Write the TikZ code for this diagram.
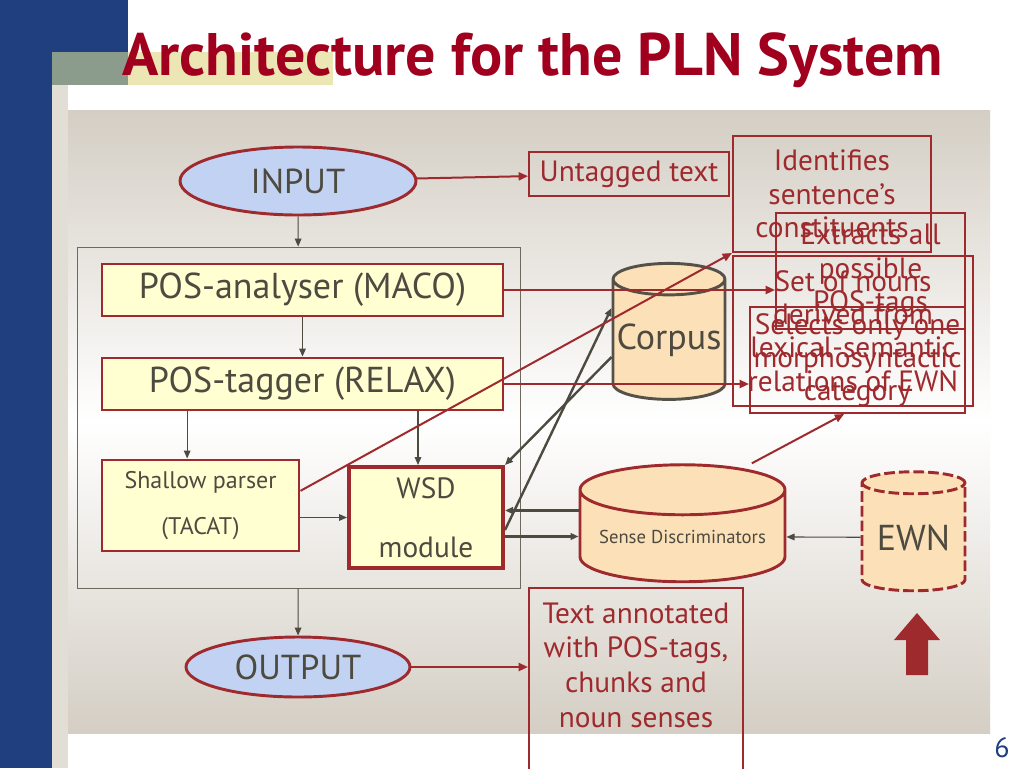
\documentclass[tikz,border=0pt]{standalone}
\usepackage{fontspec}
\setmainfont{PT Sans}
\usetikzlibrary{arrows.meta,shapes.geometric}
\definecolor{slideblue}{HTML}{1F3F7F}
\definecolor{sagegrey}{HTML}{8C9C8C}
\definecolor{paleyellow}{HTML}{ECE6B4}
\definecolor{sidegrey}{HTML}{E2DED6}
\definecolor{boxred}{HTML}{9E2A2E}
\definecolor{titlered}{HTML}{A0001E}
\definecolor{inkgrey}{HTML}{4D4A40}
\definecolor{framegrey}{HTML}{6E695F}
\definecolor{drumgrey}{HTML}{555048}
\definecolor{panelgrey}{HTML}{D4CEC4}
\definecolor{modfill}{HTML}{FFFFD2}
\definecolor{peach}{HTML}{FCE0B8}
\definecolor{skyfill}{HTML}{C2D2F2}
\tikzset{
  module/.style={draw=boxred,line width=2.2pt,fill=modfill,text=inkgrey,align=center,inner sep=0pt},
  note/.style={draw=boxred,line width=1.5pt,text=boxred,align=center,inner sep=0pt,font=\fontsize{22}{25}\selectfont},
  io/.style={ellipse,draw=boxred,line width=2.2pt,fill=skyfill,text=inkgrey,inner sep=0pt,font=\fontsize{26}{30}\selectfont},
  store/.style={cylinder,shape border rotate=90,aspect=0.3,cylinder uses custom fill,cylinder body fill=peach,cylinder end fill=peach,inner sep=0pt,text=inkgrey},
  flow/.style={draw=inkgrey,line width=0.8pt,-{Triangle[length=6pt,width=5pt]}},
  link/.style={draw=boxred,line width=1.5pt,-{Triangle[length=7pt,width=6pt]}}
}
\begin{document}
\begin{tikzpicture}[x=0.75pt,y=0.75pt,yscale=-1,xscale=1]
\useasboundingbox (0,0) rectangle (1024,768);

% slide background
\fill[white] (0,0) rectangle (1024,768);
\fill[slideblue] (0,0) rectangle (52,768);
\fill[slideblue] (52,0) rectangle (128,52);
\fill[sagegrey] (52,52) rectangle (128,85);
\fill[paleyellow] (128,52) rectangle (333,85);
\fill[sidegrey] (52,85) rectangle (68,768);
\shade[top color=panelgrey,bottom color=panelgrey,middle color=white] (68,110) rectangle (990,733);

\node[anchor=base west,text=titlered,font=\bfseries\fontsize{45}{50}\selectfont,inner sep=0pt] (title) at (122,75) {Architecture for the PLN System};
\node[anchor=base,text=slideblue,font=\fontsize{21}{24}\selectfont,inner sep=0pt] (page) at (1002,757) {6};

% pipeline
\node[draw=framegrey,line width=0.6pt,minimum width=443*0.75pt,minimum height=341*0.75pt] (panel) at (298.5,417.5) {};
\node[io,minimum width=236*0.75pt,minimum height=68*0.75pt] (input) at (298,181) {INPUT};
\node[io,minimum width=224*0.75pt,minimum height=60*0.75pt] (output) at (298,667) {OUTPUT};
\node[module,minimum width=401*0.75pt,minimum height=52*0.75pt,font=\fontsize{27}{30}\selectfont] (maco) at (302.5,290) {POS-analyser (MACO)};
\node[module,minimum width=401*0.75pt,minimum height=52*0.75pt,font=\fontsize{27}{30}\selectfont] (relax) at (302.5,384) {POS-tagger (RELAX)};
\node[module,minimum width=197*0.75pt,minimum height=91*0.75pt,font=\fontsize{18}{34}\selectfont] (tacat) at (200.5,505.5) {Shallow parser\\(TACAT)};
\node[module,line width=3pt,minimum width=154*0.75pt,minimum height=101*0.75pt,font=\fontsize{22}{44}\selectfont] (wsd) at (426,517.5) {WSD\\module};

% resources
\node[store,draw=drumgrey,line width=2.2pt,minimum width=112*0.75pt,minimum height=136*0.75pt,font=\fontsize{27}{30}\selectfont] (corpus) at (669,340) {Corpus};
\node[store,draw=boxred,line width=2.2pt,minimum width=205*0.75pt,minimum height=117*0.75pt,font=\fontsize{14}{16}\selectfont] (senses) at (682.5,536.5) {Sense Discriminators};
\node[store,draw=boxred,line width=2.2pt,dashed,dash pattern=on 8pt off 3pt,minimum width=103*0.75pt,minimum height=119*0.75pt,font=\fontsize{27}{30}\selectfont] (ewn) at (913.5,537.5) {EWN};

% notes
\node[note,minimum width=200*0.75pt,minimum height=44*0.75pt] (untagged) at (629,174) {Untagged text};
\node[note,minimum width=198*0.75pt,minimum height=116*0.75pt] (ident) at (832,194) {Identifies\\sentence's\\constituents};
\node[note,minimum width=189*0.75pt,minimum height=116*0.75pt] (extract) at (870.5,271) {Extracts all\\possible\\POS-tags};
\node[note,minimum width=240*0.75pt,minimum height=150*0.75pt] (nouns) at (853,331) {Set of nouns\\derived from\\lexical-semantic\\relations of EWN};
\node[note,minimum width=215*0.75pt,minimum height=106*0.75pt] (select) at (857.5,360) {Selects only one\\morphosyntactic\\category};
\node[note,minimum width=214*0.75pt,minimum height=196*0.75pt] (annot) at (636,686) {};
\node[text=boxred,align=center,inner sep=0pt,font=\fontsize{22}{26}\selectfont] (annottext) at (636,665) {Text annotated\\with POS-tags,\\chunks and\\noun senses};

% connectors
\draw[flow] (input) -- (panel);
\draw[flow] (maco) -- (relax);
\draw[flow] ([xshift=-10pt]tacat.north |- relax.south) -- ([xshift=-10pt]tacat.north);
\draw[flow] ([xshift=-6pt]wsd.north |- relax.south) -- ([xshift=-6pt]wsd.north);
\draw[flow] (tacat.east |- wsd.west) -- (wsd);
\draw[flow] (panel) -- (output);
\draw[flow,line width=1.8pt] ([yshift=12.75pt]corpus.west) -- (wsd.north east);
\draw[flow,line width=1.8pt] ([yshift=9.4pt]wsd.east) -- ([yshift=-24pt]corpus.west);
\draw[flow,line width=2.2pt] (wsd.east |- senses.west) -- (senses.west);
\coordinate (back) at ([yshift=-19.5pt]senses.west);
\draw[flow,line width=2.2pt] (back) -- (wsd.east |- back);
\draw[flow] (ewn) -- (senses);
\draw[link] (input) -- (untagged);
\draw[link] ([yshift=-11pt]tacat.east) -- (ident.south west);
\draw[link] (maco) -- (extract.west |- maco.east);
\draw[link] (relax) -- (select.west |- relax.east);
\draw[link] ([xshift=52pt]senses.north) -- ([xshift=-10pt]select.south);
\draw[link] (output) -- (annot.west |- output.east);

% update arrow
\fill[boxred] (906,675) -- (906,640) -- (894,640) -- (917,613) -- (940,640) -- (928,640) -- (928,675) -- cycle;
\end{tikzpicture}
\end{document}
